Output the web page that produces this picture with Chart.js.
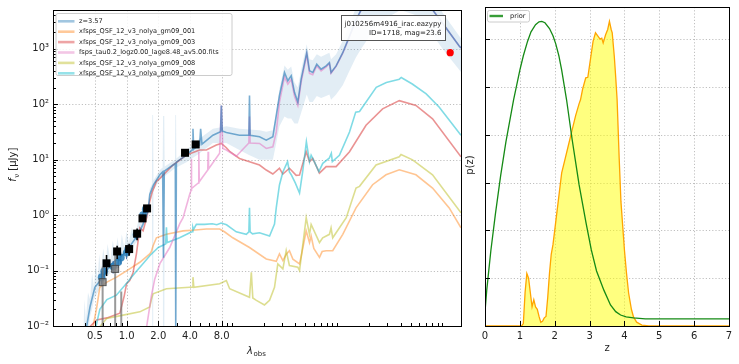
<!DOCTYPE html>
<html>
<head>
<meta charset="utf-8">
<script src="https://cdn.jsdelivr.net/npm/chart.js@4.4.1/dist/chart.umd.min.js"></script>
<style>
  body { margin: 0; background: #fff; width: 739px; height: 364px; overflow: hidden; position: relative; }
  #sed { position: absolute; left: 0; top: 0; }
  #pz { position: absolute; left: 462px; top: 0; }
</style>
</head>
<body>
<canvas id="sed" width="470" height="364"></canvas>
<canvas id="pz" width="277" height="364"></canvas>
<script>
// ---- SED panel: [wavelength (micron), flux (uJy)] ----
const bestFit = [[0.40,0.006],[0.417,0.0097],[0.449,0.022],[0.482,0.038],[0.5,0.05],[0.579,0.071],[0.646,0.1],[0.745,0.141],[0.863,0.173],[1.0,0.228],[1.11,0.30],[1.29,0.45],[1.43,0.68],[1.6,1.18],[1.66,2.35],[1.8,3.5],[2.07,5.33],[2.2,6.0],[2.24,0.17],[2.28,6.2],[2.76,8.0],[2.9,8.5],[2.93,0.009],[2.97,9.0],[3.7,12.1],[4.2,15],[4.27,36],[4.34,15.5],[4.94,18.3],[5.05,36],[5.2,19],[6.61,27.6],[7.8,32],[7.94,95],[8.1,33],[8.86,31.0],[11.8,27.6],[14.5,27.6],[14.7,143],[14.9,27.6],[18.3,25.8],[21.2,22.5],[24.5,25.8],[26.4,62.8],[28.3,143],[31.6,373],[34.0,265],[36.6,326],[39.3,164],[42.3,109],[45.5,283],[51.4,849],[54.6,400],[58.6,373],[64.0,525],[70.4,427],[78.6,491],[84.4,562],[87.5,373],[97.7,491],[113,849],[131,1690],[151,3340],[169,5030],[250,11000],[400,14000],[560,10000],[805,5030],[1000,2910],[1442,1118],[1500,1030]];
const fspsTau = [[1.5,0.006],[1.55,0.0097],[1.72,0.035],[1.85,0.07],[2.07,0.133],[2.57,0.26],[3.2,0.7],[3.44,0.9],[3.97,2.35],[4.1,2.8],[4.12,10.4],[4.15,3],[4.8,3.8],[4.85,13.9],[4.9,4.0],[5.9,6.5],[5.95,13.9],[6.0,6.8],[7.65,13.0],[7.94,95],[8.2,15.9],[8.86,14.9],[11.0,11.5],[14.5,20],[14.7,60],[14.9,20],[18.3,19.6],[21.2,15.9],[24.5,17.1],[26.4,31.6],[28.3,109],[31.6,310],[34,230],[36.6,280],[39.3,140],[42.3,95],[45.5,250],[51.4,780],[54.6,360],[58.6,340],[64,490],[70.4,400],[78.6,470],[84.4,540],[87.5,360],[97.7,480],[113,830],[131,1650],[151,3300],[169,5000],[250,11000],[400,14000],[560,10000],[805,5030],[1000,2910],[1442,1118],[1500,1030]];
const qsf001 = [[0.47,0.008],[0.519,0.0207],[0.557,0.050],[0.65,0.062],[0.803,0.076],[1.07,0.107],[1.335,0.141],[1.66,0.199],[1.72,0.22],[1.785,0.28],[1.92,0.39],[2.39,0.45],[3.44,0.52],[4.5,0.54],[5.72,0.56],[7.65,0.56],[8.5,0.5],[10.2,0.39],[14.7,0.26],[21.2,0.162],[26.4,0.147],[28.3,0.2],[30.5,0.151],[33,0.2],[35.2,0.228],[38,0.16],[43.9,0.132],[46,0.2],[50.8,0.52],[54.6,0.32],[56.6,0.42],[60,0.25],[67.9,0.173],[72,0.22],[78.6,0.228],[90.7,0.228],[113,0.45],[151,1.35],[217,3.53],[291,5.33],[389,6.55],[560,5.33],[805,3.07],[1159,1.35],[1500,0.59]];
const qsf003 = [[0.448,0.0097],[0.519,0.0129],[0.65,0.014],[0.863,0.017],[0.95,0.035],[1.0,0.058],[1.07,0.066],[1.15,0.09],[1.24,0.2],[1.335,0.59],[1.435,0.52],[1.55,0.9],[1.66,1.78],[1.75,2.6],[1.92,4.05],[2.07,4.6],[2.76,8.0],[3.7,12.1],[4.94,14.9],[5.72,14.9],[7.12,18.3],[7.94,19.6],[8.86,16.4],[9.6,13.9],[11.8,10.5],[14.7,9.2],[18.3,8.0],[21.2,6.5],[24.5,5.5],[28.3,7.0],[30.5,5.5],[35.2,7.0],[40.8,5.2],[43.9,5.3],[50.8,13.9],[54.6,9.2],[58.6,10.5],[67.9,5.7],[78.6,7.5],[97.7,7.5],[131,13.9],[188,41.7],[270,82.4],[389,116],[560,94.9],[805,54.6],[1500,11.3]];
const qsf008 = [[0.557,0.0097],[0.646,0.0137],[0.927,0.0157],[1.335,0.018],[1.66,0.022],[1.72,0.03],[1.785,0.038],[2.39,0.047],[3.97,0.05],[4.2,0.05],[4.27,0.076],[4.35,0.05],[7.65,0.058],[8.86,0.066],[9.52,0.047],[14.7,0.033],[15.3,0.093],[15.8,0.032],[17.1,0.029],[20.4,0.024],[22.8,0.029],[25.4,0.05],[27.3,0.132],[30.5,0.107],[32.8,0.228],[35.2,0.123],[42.3,0.115],[43.9,0.1],[50.8,0.9],[54.6,0.45],[56.6,0.68],[67.9,0.32],[72.9,0.39],[84.4,0.45],[87.5,0.59],[90.7,0.39],[122,0.9],[151,3.07],[163,3.3],[234,8.0],[389,11.3],[404,12.4],[520,9.9],[805,5.33],[1500,1.1]];
const qsf009 = [[0.5,0.008],[0.557,0.02],[0.65,0.03],[0.8,0.036],[1.0,0.059],[1.2,0.09],[1.43,0.133],[1.66,0.185],[2.0,0.26],[2.35,0.3],[2.39,0.6],[2.43,0.32],[3.19,0.39],[3.98,0.48],[4.2,0.5],[4.26,0.6],[4.32,0.55],[4.6,0.68],[5.5,0.68],[6.5,0.7],[7.2,0.67],[7.9,0.72],[8.9,0.67],[11,0.5],[13.7,0.45],[14.5,0.5],[14.7,1.36],[14.9,0.5],[15.7,0.46],[18.3,0.48],[22.8,0.42],[25.4,0.69],[26.4,1.36],[28.3,3.5],[30.5,6.0],[33.8,9.2],[35.2,6.0],[36.5,5.4],[40,3.8],[43.9,2.5],[47,6],[51,21],[54.6,9.2],[56.6,12],[60.7,9.2],[67,6.1],[73,8.6],[84,10.6],[88,13],[90,9.2],[105,12],[131,31.6],[150,72],[163,74],[235,201],[293,247],[389,283],[406,303],[517,231],[701,153],[933,88],[1500,27.5]];
// uncertainty band of the best fit: [wavelength, low, high]
const fitBand = [[0.39,0.001,0.012],[0.40,0.001,0.03],[0.41,0.003,0.012],[0.43,0.006,0.04],[0.45,0.015,0.03],[0.47,0.02,0.09],[0.49,0.03,0.05],[0.51,0.035,0.15],[0.53,0.04,0.07],[0.55,0.045,0.2],[0.57,0.05,0.09],[0.6,0.06,0.25],[0.63,0.07,0.13],[0.66,0.08,0.3],[0.7,0.09,0.15],[0.74,0.1,0.35],[0.78,0.11,0.18],[0.82,0.12,0.4],[0.86,0.13,0.2],[0.9,0.14,0.45],[0.95,0.16,0.26],[1.0,0.18,0.5],[1.05,0.2,0.32],[1.12,0.22,0.6],[1.2,0.3,0.45],[1.3,0.35,0.8],[1.4,0.5,0.9],[1.5,0.8,1.4],[1.6,0.9,1.6],[1.66,1.8,3.0],[1.74,2.5,3.6],[1.755,0.002,64],[1.785,0.002,64],[1.8,2.8,4.2],[2.07,4.3,6.5],[2.2,4.8,7.2],[2.22,0.002,61],[2.28,0.002,61],[2.3,5.0,7.5],[2.76,6.6,9.5],[2.88,7,10],[2.9,0.002,64],[2.95,0.002,64],[2.97,7.2,10.5],[3.7,9,15],[4.94,13,24],[6.61,20,36],[8.86,20,40],[11.8,15,36],[14.7,12,35],[18.3,10,34],[21.2,10,32],[24.5,10,34],[26.4,20,70],[28.3,40,190],[31.6,60,500],[34,55,420],[36.6,55,480],[39.3,45,250],[42.3,45,200],[45.5,70,420],[51.4,150,1200],[54.6,110,650],[58.6,110,620],[64,140,800],[70.4,130,720],[78.6,140,800],[84.4,150,850],[87.5,120,650],[97.7,150,800],[113,220,1400],[131,400,2800],[151,700,5500],[169,1000,8000],[250,3000,25000],[400,5000,30000],[560,4000,22000],[805,1800,10000],[1000,1000,4500],[1442,420,1700],[1500,380,1550]];

// photometry
const obsWave = [0.645, 0.813, 1.057, 1.259, 1.416, 1.565, 3.59, 4.53];
const obsFlux = [0.135, 0.221, 0.244, 0.463, 0.873, 1.32, 13.3, 18.8];
const obsErr = [0.055, 0.06, 0.06, 0.11, 0.1, 0.1, 0.5, 0.6];
const grayWave = [0.592, 0.779, 0.89];
const grayFlux = [0.0618, 0.107, 0.002];
const grayErr = [0.055, 0.1, 0.04];
const modelWave = [0.579, 0.612, 0.745, 0.832, 0.882, 1.0, 1.035, 1.24, 1.43, 1.52];
const modelFlux = [0.076, 0.097, 0.118, 0.141, 0.171, 0.21, 0.244, 0.44, 1.0, 1.28];
const modelErr = [0.02, 0.025, 0.03, 0.03, 0.04, 0.05, 0.05, 0.08, 0.15, 0.2];
const mmPoint = [1184, 849];

const sedLegend = ['z=3.57', 'xfsps_QSF_12_v3_nolya_gm09_001', 'xfsps_QSF_12_v3_nolya_gm09_003',
  'fsps_tau0.2_logz0.00_lage8.48_av5.00.fits', 'xfsps_QSF_12_v3_nolya_gm09_008', 'xfsps_QSF_12_v3_nolya_gm09_009'];
const sedLabel = ['j010256m4916_irac.eazypy', 'ID=1718, mag=23.6'];
const xMajorTicks = [0.5, 1, 2, 4, 8];
const yDecades = [0.01, 0.1, 1, 10, 100, 1000];

// ---- p(z) panel: [z, value] ----
const pzCurve = [[0,0],[1.05,0],[1.1,0.05],[1.15,0.7],[1.2,1.1],[1.25,1.0],[1.3,0.7],[1.35,0.4],[1.4,0.55],[1.45,0.4],[1.5,0.35],[1.55,0.2],[1.6,0.08],[1.65,0.1],[1.7,0.17],[1.75,0.2],[1.8,0.6],[1.85,1.1],[1.9,1.5],[1.95,1.7],[2.0,2.0],[2.1,2.6],[2.2,3.2],[2.3,3.5],[2.4,3.8],[2.5,4.1],[2.6,4.4],[2.7,4.65],[2.74,4.73],[2.8,4.95],[2.89,5.19],[2.95,5.2],[3.03,5.6],[3.1,5.95],[3.17,6.13],[3.25,6.05],[3.3,6.0],[3.35,6.02],[3.39,5.92],[3.46,6.09],[3.52,6.2],[3.57,6.37],[3.62,6.2],[3.65,6.13],[3.71,5.63],[3.75,5.2],[3.79,4.73],[3.85,3.5],[3.9,2.6],[4.0,1.59],[4.06,1.1],[4.12,0.69],[4.2,0.35],[4.26,0.19],[4.35,0.08],[4.5,0.02],[4.7,0],[7,0]];
const priorCurve = [[0,0.3],[0.05,0.75],[0.1,1.1],[0.17,1.59],[0.3,2.35],[0.45,3.15],[0.6,3.85],[0.82,4.73],[1.0,5.35],[1.1,5.65],[1.22,5.95],[1.32,6.15],[1.45,6.3],[1.55,6.36],[1.63,6.37],[1.72,6.34],[1.85,6.22],[1.95,6.07],[2.03,5.9],[2.12,5.65],[2.2,5.35],[2.34,4.73],[2.5,3.9],[2.7,2.95],[2.9,2.15],[3.05,1.59],[3.2,1.15],[3.41,0.75],[3.6,0.44],[3.75,0.3],[3.89,0.23],[4.05,0.19],[4.26,0.17],[4.6,0.15],[7,0.15]];
const zTicks = [0, 1, 2, 3, 4, 5, 6, 7];
const pTicks = [1, 2, 3, 4, 5, 6];

const FONT = 'DejaVu Sans';
const GRID = '#b0b0b0';
const INK = '#222';

function toXY(arr) {
  return arr.map(p => ({ x: p[0], y: p[1] }));
}

function lineSet(arr, color) {
  return { data: toXY(arr), borderColor: color, borderWidth: 1.6, pointRadius: 0, fill: false, tension: 0 };
}

function superscript(n) {
  const map = { '-': '\u207B', '0': '\u2070', '1': '\u00B9', '2': '\u00B2', '3': '\u00B3' };
  return String(n).split('').map(c => map[c]).join('');
}

function minorLogTicks(min, max) {
  const out = [];
  for (let d = -2; d <= 3; d++) {
    for (let m = 1; m <= 9; m++) {
      const v = m * Math.pow(10, d);
      if (v >= min && v <= max) out.push(v);
    }
  }
  return out;
}

function dottedGrid(chart, xs, ys) {
  const { ctx, chartArea: a, scales: { x, y } } = chart;
  ctx.save();
  ctx.strokeStyle = GRID;
  ctx.lineWidth = 0.8;
  ctx.setLineDash([1.2, 2]);
  ctx.beginPath();
  xs.forEach(v => {
    const px = Math.round(x.getPixelForValue(v)) + 0.5;
    if (px <= a.left + 1 || px >= a.right - 1) return;
    ctx.moveTo(px, a.top); ctx.lineTo(px, a.bottom);
  });
  ys.forEach(v => {
    const py = Math.round(y.getPixelForValue(v)) + 0.5;
    if (py <= a.top + 1 || py >= a.bottom - 1) return;
    ctx.moveTo(a.left, py); ctx.lineTo(a.right, py);
  });
  ctx.stroke();
  ctx.restore();
}

function frameAndTicks(chart, xMinor, xMajor, yMinor, yMajor) {
  const { ctx, chartArea: a, scales: { x, y } } = chart;
  ctx.save();
  ctx.strokeStyle = '#000';
  ctx.lineWidth = 1;
  ctx.beginPath();
  const xt = (list, len) => list.forEach(v => {
    const px = Math.round(x.getPixelForValue(v)) + 0.5;
    if (px < a.left || px > a.right) return;
    ctx.moveTo(px, a.bottom); ctx.lineTo(px, a.bottom - len);
  });
  const yt = (list, len) => list.forEach(v => {
    const py = Math.round(y.getPixelForValue(v)) + 0.5;
    if (py < a.top || py > a.bottom) return;
    ctx.moveTo(a.left, py); ctx.lineTo(a.left + len, py);
  });
  xt(xMinor, 3); xt(xMajor, 5); yt(yMinor, 3); yt(yMajor, 5);
  ctx.stroke();
  ctx.strokeRect(Math.round(a.left) + 0.5, Math.round(a.top) + 0.5,
    Math.round(a.right - a.left), Math.round(a.bottom - a.top));
  ctx.restore();
}

function errorBars(ctx, x, y, bottom, waves, fluxes, errs, color, width) {
  ctx.strokeStyle = color;
  ctx.lineWidth = width;
  ctx.beginPath();
  waves.forEach((w, i) => {
    const px = x.getPixelForValue(w);
    const top = y.getPixelForValue(fluxes[i] + errs[i]);
    const low = fluxes[i] - errs[i] > 0 ? y.getPixelForValue(fluxes[i] - errs[i]) : bottom + 2;
    ctx.moveTo(px, top); ctx.lineTo(px, Math.min(low, bottom + 2));
  });
  ctx.stroke();
}

const sedDecor = {
  id: 'sedDecor',
  beforeDatasetsDraw(chart) {
    dottedGrid(chart, xMajorTicks, yDecades);
  },
  afterDatasetsDraw(chart) {
    const { ctx, chartArea: a, scales: { x, y } } = chart;
    ctx.save();
    ctx.beginPath();
    ctx.rect(a.left, a.top, a.right - a.left, a.bottom - a.top);
    ctx.clip();

    // model photometry (blue circles)
    errorBars(ctx, x, y, a.bottom, modelWave, modelFlux, modelErr, 'rgba(20,70,140,0.8)', 1);
    ctx.fillStyle = 'rgba(31,119,180,0.8)';
    modelWave.forEach((w, i) => {
      ctx.beginPath();
      ctx.arc(x.getPixelForValue(w), y.getPixelForValue(modelFlux[i]), 3.8, 0, Math.PI * 2);
      ctx.fill();
    });

    // unused bands (gray)
    errorBars(ctx, x, y, a.bottom, grayWave, grayFlux, grayErr, 'rgba(110,110,110,0.7)', 2);
    grayWave.forEach((w, i) => {
      const px = x.getPixelForValue(w), py = y.getPixelForValue(grayFlux[i]);
      ctx.fillStyle = 'rgba(128,128,128,0.8)';
      ctx.fillRect(px - 3.5, py - 3.5, 7, 7);
      ctx.strokeStyle = 'rgba(60,60,60,0.8)';
      ctx.lineWidth = 1;
      ctx.strokeRect(px - 3.5, py - 3.5, 7, 7);
    });

    // observed fluxes (black squares)
    errorBars(ctx, x, y, a.bottom, obsWave, obsFlux, obsErr, '#000', 1.6);
    ctx.fillStyle = '#000';
    obsWave.forEach((w, i) => {
      const px = x.getPixelForValue(w), py = y.getPixelForValue(obsFlux[i]);
      ctx.fillRect(px - 4, py - 4, 8, 8);
    });

    // mm point
    ctx.fillStyle = 'red';
    ctx.beginPath();
    ctx.arc(x.getPixelForValue(mmPoint[0]), y.getPixelForValue(mmPoint[1]), 3.6, 0, Math.PI * 2);
    ctx.fill();
    ctx.restore();

    frameAndTicks(chart, minorLogTicks(0.2, 1500), xMajorTicks, minorLogTicks(0.01, 5000), yDecades);

    ctx.save();
    // legend
    const lx = a.left + 2.5, ly = a.top + 3;
    ctx.fillStyle = 'rgba(255,255,255,0.85)';
    ctx.strokeStyle = '#cccccc';
    ctx.lineWidth = 1;
    ctx.beginPath();
    ctx.roundRect(lx + 0.5, ly + 0.5, 176, 62, 2);
    ctx.fill(); ctx.stroke();
    const legendColors = ['rgba(31,119,180,0.42)', 'rgba(255,127,14,0.42)', 'rgba(214,39,40,0.42)',
      'rgba(227,119,194,0.42)', 'rgba(188,189,34,0.45)', 'rgba(23,190,207,0.45)'];
    ctx.font = '6.6px "' + FONT + '"';
    ctx.textBaseline = 'middle';
    ctx.textAlign = 'left';
    sedLegend.forEach((label, i) => {
      const yy = ly + 8.3 + i * 10.4;
      ctx.strokeStyle = legendColors[i];
      ctx.lineWidth = 2.6;
      ctx.beginPath();
      ctx.moveTo(lx + 2.5, yy); ctx.lineTo(lx + 19, yy);
      ctx.stroke();
      ctx.fillStyle = INK;
      ctx.fillText(label, lx + 23.5, yy);
    });

    // object label box
    ctx.fillStyle = 'rgba(255,255,255,0.9)';
    ctx.strokeStyle = '#555';
    ctx.lineWidth = 1;
    ctx.fillRect(341.5, 15.5, 104, 25);
    ctx.strokeRect(341.5, 15.5, 104, 25);
    ctx.fillStyle = INK;
    ctx.font = '7px "' + FONT + '"';
    ctx.textAlign = 'right';
    ctx.fillText(sedLabel[0], 441.5, 24.5);
    ctx.fillText(sedLabel[1], 441.5, 33);

    // axis titles
    ctx.textAlign = 'left';
    ctx.textBaseline = 'alphabetic';
    ctx.font = 'italic 10px "' + FONT + '"';
    ctx.fillText('\u03BB', 247, 354);
    ctx.font = '7px "' + FONT + '"';
    ctx.fillText('obs', 253.5, 356);

    ctx.translate(16, 165);
    ctx.rotate(-Math.PI / 2);
    ctx.font = 'italic 10px "' + FONT + '"';
    const fW = ctx.measureText('f').width;
    ctx.font = '7px "' + FONT + '"';
    const nuW = ctx.measureText('\u03BD').width;
    ctx.font = '10px "' + FONT + '"';
    const restW = ctx.measureText(' [\u03BCJy]').width;
    let cx = -(fW + nuW + restW) / 2;
    ctx.font = 'italic 10px "' + FONT + '"';
    ctx.fillText('f', cx, 0); cx += fW + 0.5;
    ctx.font = '7px "' + FONT + '"';
    ctx.fillText('\u03BD', cx, 2.5); cx += nuW;
    ctx.font = '10px "' + FONT + '"';
    ctx.fillText(' [\u03BCJy]', cx, 0);
    ctx.restore();
  }
};

new Chart(document.getElementById('sed'), {
  type: 'line',
  data: {
    datasets: [
      lineSet(bestFit, 'rgba(31,119,180,0.6)'),
      lineSet(fspsTau, 'rgba(227,119,194,0.55)'),
      lineSet(qsf009, 'rgba(23,190,207,0.55)'),
      lineSet(qsf008, 'rgba(188,189,34,0.5)'),
      lineSet(qsf003, 'rgba(214,39,40,0.5)'),
      lineSet(qsf001, 'rgba(255,127,14,0.45)'),
      { data: fitBand.map(r => ({ x: r[0], y: r[2] })), borderWidth: 0, pointRadius: 0, fill: '+1',
        backgroundColor: 'rgba(31,119,180,0.13)', tension: 0 },
      { data: fitBand.map(r => ({ x: r[0], y: r[1] })), borderWidth: 0, pointRadius: 0, fill: false, tension: 0 }
    ]
  },
  options: {
    responsive: false,
    animation: false,
    events: [],
    layout: { padding: { top: 7, right: 9, left: 0, bottom: 0 } },
    plugins: { legend: { display: false }, tooltip: { enabled: false } },
    scales: {
      x: {
        type: 'logarithmic', min: 0.2, max: 1500,
        afterBuildTicks: s => { s.ticks = xMajorTicks.map(v => ({ value: v })); },
        afterFit: s => { s.height = 38; },
        grid: { display: false, drawTicks: false },
        border: { display: false },
        ticks: { autoSkip: false, maxRotation: 0, padding: 4, color: INK, font: { family: FONT, size: 10 },
          callback: v => Number(v).toFixed(1) }
      },
      y: {
        type: 'logarithmic', min: 0.01, max: 5000,
        afterBuildTicks: s => { s.ticks = yDecades.map(v => ({ value: v })); },
        afterFit: s => { s.width = 53; },
        grid: { display: false, drawTicks: false },
        border: { display: false },
        ticks: { autoSkip: false, padding: 4, color: INK, font: { family: FONT, size: 10 },
          callback: v => '10' + superscript(Math.round(Math.log10(v))) }
      }
    }
  },
  plugins: [sedDecor]
});

const pzDecor = {
  id: 'pzDecor',
  beforeDatasetsDraw(chart) {
    dottedGrid(chart, zTicks, pTicks);
  },
  afterDatasetsDraw(chart) {
    const { ctx, chartArea: a } = chart;
    frameAndTicks(chart, [], zTicks, [], pTicks);
    ctx.save();
    // legend
    ctx.fillStyle = 'rgba(255,255,255,0.85)';
    ctx.strokeStyle = '#cccccc';
    ctx.lineWidth = 1;
    ctx.beginPath();
    ctx.roundRect(a.left + 2.5, a.top + 3.5, 42, 11.5, 2);
    ctx.fill(); ctx.stroke();
    ctx.strokeStyle = 'rgba(20,140,20,0.85)';
    ctx.lineWidth = 2.4;
    ctx.beginPath();
    ctx.moveTo(a.left + 4.5, a.top + 9); ctx.lineTo(a.left + 18, a.top + 9);
    ctx.stroke();
    ctx.fillStyle = INK;
    ctx.font = '6.6px "' + FONT + '"';
    ctx.textBaseline = 'middle';
    ctx.fillText('prior', a.left + 25, a.top + 9.3);

    // axis titles
    ctx.textBaseline = 'alphabetic';
    ctx.textAlign = 'center';
    ctx.font = '10px "' + FONT + '"';
    ctx.fillText('z', (a.left + a.right) / 2, 351);
    ctx.translate(11, 165);
    ctx.rotate(-Math.PI / 2);
    ctx.fillText('p(z)', 0, 0);
    ctx.restore();
  }
};

new Chart(document.getElementById('pz'), {
  type: 'line',
  data: {
    datasets: [
      { data: toXY(priorCurve), borderColor: '#158a15', borderWidth: 1.3, pointRadius: 0, fill: false, tension: 0 },
      { data: toXY(pzCurve), borderColor: 'orange', borderWidth: 1.3, pointRadius: 0, tension: 0,
        fill: 'origin', backgroundColor: 'rgba(255,255,0,0.5)' }
    ]
  },
  options: {
    responsive: false,
    animation: false,
    events: [],
    layout: { padding: { top: 7, right: 10, left: 0, bottom: 0 } },
    plugins: { legend: { display: false }, tooltip: { enabled: false } },
    scales: {
      x: {
        type: 'linear', min: 0, max: 7,
        afterBuildTicks: s => { s.ticks = zTicks.map(v => ({ value: v })); },
        afterFit: s => { s.height = 38; },
        grid: { display: false, drawTicks: false },
        border: { display: false },
        ticks: { autoSkip: false, maxRotation: 0, padding: 4, color: INK, font: { family: FONT, size: 10 } }
      },
      y: {
        type: 'linear', min: 0, max: 6.67,
        afterFit: s => { s.width = 23; },
        grid: { display: false, drawTicks: false },
        border: { display: false },
        ticks: { display: false }
      }
    }
  },
  plugins: [pzDecor]
});
</script>
</body>
</html>
